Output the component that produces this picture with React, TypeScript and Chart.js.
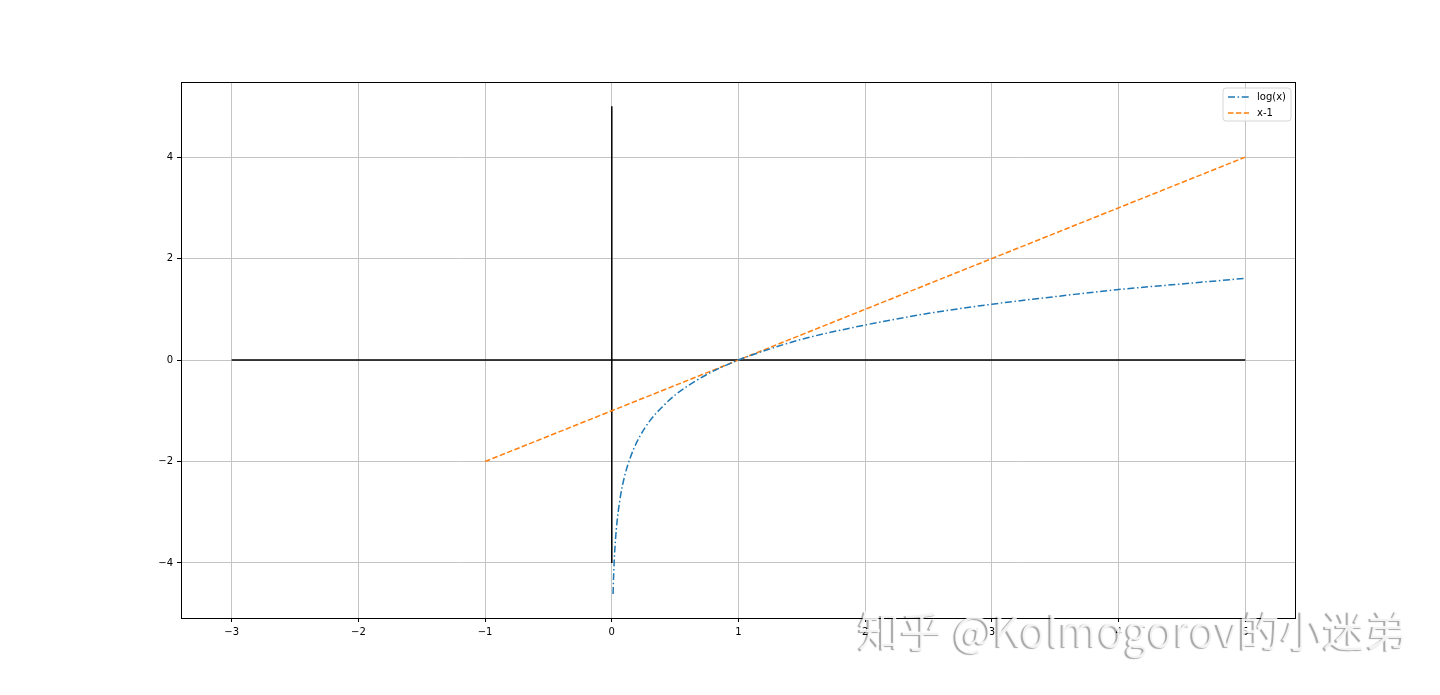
import React, { useEffect, useRef } from "react";
import { Chart, registerables } from "chart.js";

Chart.register(...registerables);

// ---- data ----
const xTicks = [-3, -2, -1, 0, 1, 2, 3, 4, 5];
const yTicks = [-4, -2, 0, 2, 4];

const logX = [0.01, 0.015, 0.02, 0.03, 0.04, 0.05, 0.07, 0.1, 0.13, 0.17, 0.22, 0.3, 0.4, 0.5, 0.65, 0.8, 1, 1.25, 1.5, 2, 2.5, 3, 3.5, 4, 4.5, 5];
const logY = [-4.61, -4.2, -3.91, -3.51, -3.22, -3.0, -2.66, -2.3, -2.04, -1.77, -1.51, -1.2, -0.92, -0.69, -0.43, -0.22, 0, 0.22, 0.41, 0.69, 0.92, 1.1, 1.25, 1.39, 1.5, 1.61];

const linX = [-1, 5];
const linY = [-2, 4];

const hAxisX = [-3, 5];
const hAxisY = [0, 0];
const vAxisX = [0, 0];
const vAxisY = [-4, 5];

const seriesLabels = ["log(x)", "x-1"];
const seriesColors = ["#1f77b4", "#ff7f0e"];
const seriesDashes = [[7, 2.6, 1.5, 2.6], [5.5, 2.4]];

const xMin = -3.4, xMax = 5.4;
const yMin = -5.085, yMax = 5.48;

const watermark = "知乎 @Kolmogorov的小迷弟";

const toPts = (xs: number[], ys: number[]) => xs.map((x, i) => ({ x, y: ys[i] }));
const fmt = (v: number) => (v < 0 ? "\u2212" + Math.abs(v) : String(v));

const framePlugin = {
  id: "mplFrame",
  afterDatasetsDraw(chart: any) {
    const { ctx, chartArea } = chart;
    const { left, top, right, bottom } = chartArea;
    ctx.save();
    ctx.strokeStyle = "#000";
    ctx.lineWidth = 1;
    ctx.strokeRect(Math.round(left) + 0.5, Math.round(top) + 0.5, Math.round(right - left) - 1, Math.round(bottom - top));
    ctx.restore();

    // legend (matplotlib style, upper right inside axes)
    const w = 68, h = 33;
    const x0 = right - 5 - w;
    const y0 = top + 6;
    ctx.save();
    ctx.beginPath();
    const r = 3;
    ctx.moveTo(x0 + r, y0);
    ctx.lineTo(x0 + w - r, y0);
    ctx.quadraticCurveTo(x0 + w, y0, x0 + w, y0 + r);
    ctx.lineTo(x0 + w, y0 + h - r);
    ctx.quadraticCurveTo(x0 + w, y0 + h, x0 + w - r, y0 + h);
    ctx.lineTo(x0 + r, y0 + h);
    ctx.quadraticCurveTo(x0, y0 + h, x0, y0 + h - r);
    ctx.lineTo(x0, y0 + r);
    ctx.quadraticCurveTo(x0, y0, x0 + r, y0);
    ctx.closePath();
    ctx.fillStyle = "rgba(255,255,255,0.8)";
    ctx.fill();
    ctx.strokeStyle = "#d6d6d6";
    ctx.lineWidth = 1;
    ctx.stroke();
    seriesLabels.forEach((lab, i) => {
      const yy = y0 + 9 + i * 16;
      ctx.beginPath();
      ctx.setLineDash(seriesDashes[i]);
      ctx.strokeStyle = seriesColors[i];
      ctx.lineWidth = 1.5;
      ctx.moveTo(x0 + 5, yy);
      ctx.lineTo(x0 + 26, yy);
      ctx.stroke();
      ctx.setLineDash([]);
      ctx.fillStyle = "#000";
      ctx.font = "10px 'DejaVu Sans'";
      ctx.textBaseline = "middle";
      ctx.textAlign = "left";
      ctx.fillText(lab, x0 + 34, yy);
    });
    ctx.restore();
  },
};

export default function App() {
  const ref = useRef<HTMLCanvasElement>(null);
  useEffect(() => {
    const line = { showLine: true, pointRadius: 0, pointHoverRadius: 0, fill: false, borderWidth: 1.5 };
    const chart = new Chart(ref.current as HTMLCanvasElement, {
      type: "scatter",
      data: {
        datasets: [
          { ...line, label: seriesLabels[0], data: toPts(logX, logY), borderColor: seriesColors[0], backgroundColor: seriesColors[0], borderDash: seriesDashes[0], cubicInterpolationMode: "monotone" } as any,
          { ...line, label: seriesLabels[1], data: toPts(linX, linY), borderColor: seriesColors[1], backgroundColor: seriesColors[1], borderDash: seriesDashes[1] } as any,
          { ...line, label: "", data: toPts(hAxisX, hAxisY), borderColor: "#000", backgroundColor: "#000" } as any,
          { ...line, label: "", data: toPts(vAxisX, vAxisY), borderColor: "#000", backgroundColor: "#000" } as any,
        ],
      },
      options: {
        animation: false,
        responsive: false,
        devicePixelRatio: 1,
        layout: { padding: { top: 82, right: 144, left: 0, bottom: 0 } },
        plugins: { legend: { display: false }, tooltip: { enabled: false } },
        scales: {
          x: {
            type: "linear",
            min: xMin,
            max: xMax,
            afterBuildTicks: (s: any) => { s.ticks = xTicks.map((v) => ({ value: v })); },
            afterFit: (s: any) => { s.height = 77; },
            grid: { color: "#c4c4c4", lineWidth: 1, tickColor: "#000", tickLength: 4, tickWidth: 1 },
            border: { display: false },
            ticks: { color: "#000", font: { family: "'DejaVu Sans'", size: 10 }, padding: 4, maxRotation: 0, autoSkip: false, callback: (v: any) => fmt(Number(v)) },
          },
          y: {
            type: "linear",
            min: yMin,
            max: yMax,
            afterBuildTicks: (s: any) => { s.ticks = yTicks.map((v) => ({ value: v })); },
            afterFit: (s: any) => { s.width = 181; },
            grid: { color: "#c4c4c4", lineWidth: 1, tickColor: "#000", tickLength: 4, tickWidth: 1 },
            border: { display: false },
            ticks: { color: "#000", font: { family: "'DejaVu Sans'", size: 10 }, padding: 4, autoSkip: false, callback: (v: any) => fmt(Number(v)) },
          },
        },
      },
      plugins: [framePlugin],
    });
    return () => chart.destroy();
  }, []);

  return (
    <div style={{ position: "absolute", left: 0, top: 0, width: 1440, height: 695, background: "#fff", overflow: "hidden" }}>
      <canvas ref={ref} width={1440} height={695} style={{ display: "block" }} />
      <span
        style={{
          position: "absolute",
          left: 858,
          top: 601,
          fontFamily: "'Noto Sans CJK SC', 'Noto Sans', sans-serif",
          fontSize: 42,
          lineHeight: "56px",
          letterSpacing: "0.5px",
          whiteSpace: "nowrap",
          color: "rgba(255,255,255,0.85)",
          textShadow: "-2px 1px 1px rgba(0,0,0,0.35)",
        }}
      >
        {watermark}
      </span>
    </div>
  );
}
